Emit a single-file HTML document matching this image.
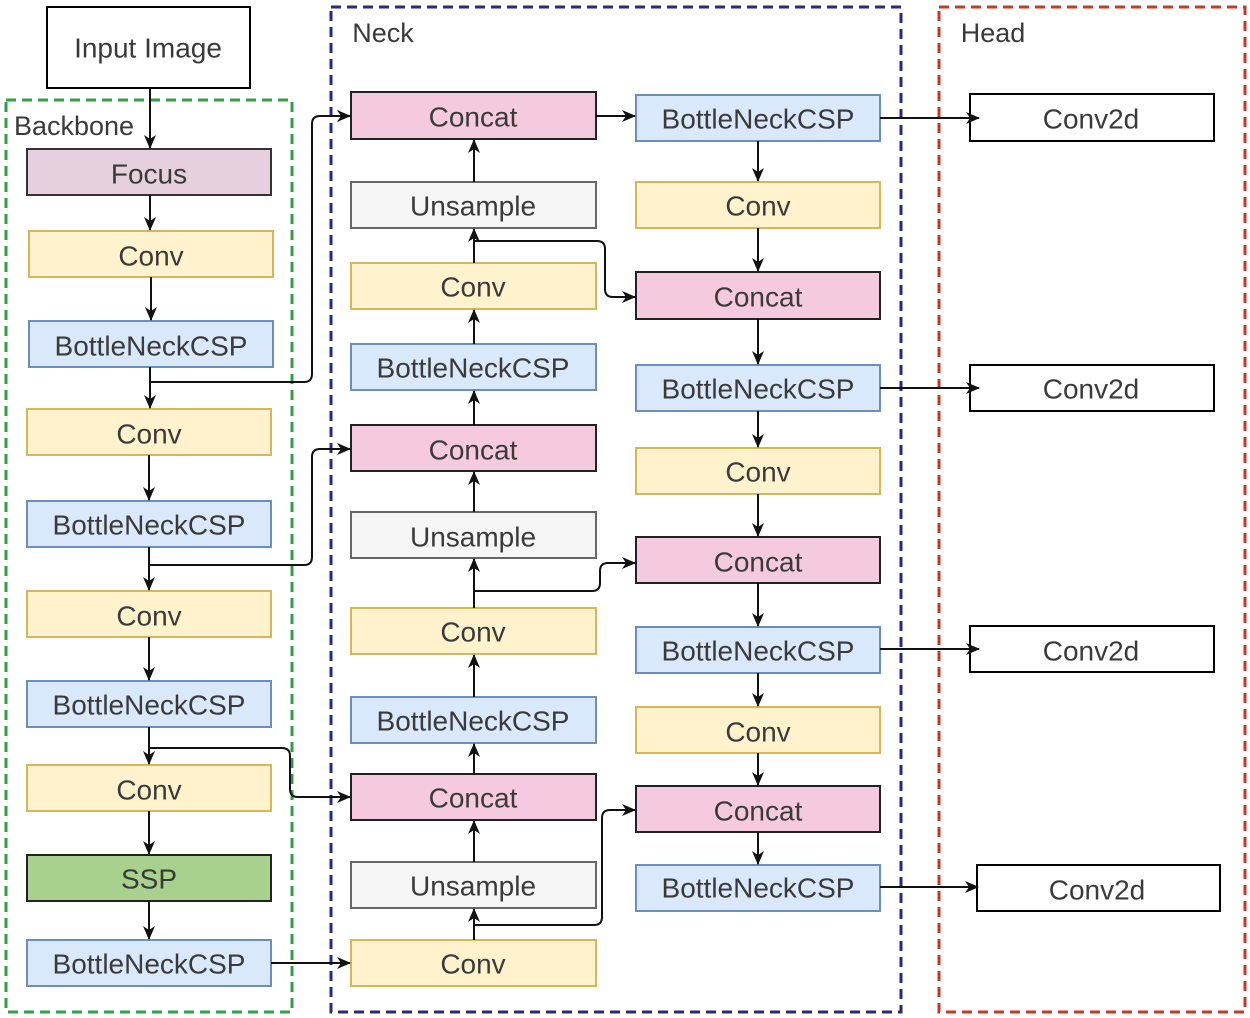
<!DOCTYPE html>
<html><head><meta charset="utf-8"><style>
body{margin:0;background:#fff;width:1250px;height:1018px;overflow:hidden}
svg{display:block}
text{font-family:"Liberation Sans",sans-serif;font-size:28px;text-anchor:middle;dominant-baseline:central;fill:#3a3a3a}
.y{fill:#fff2cc;stroke:#d6b656;stroke-width:2}
.b{fill:#dae8fc;stroke:#6c8ebf;stroke-width:2}
.p{fill:#f6cade;stroke:#222;stroke-width:2}
.g{fill:#f5f5f5;stroke:#666;stroke-width:2}
.w{fill:#fff;stroke:#000;stroke-width:2}
.f{fill:#e6d0de;stroke:#333;stroke-width:2}
.s{fill:#a9d18e;stroke:#222;stroke-width:2}
.l{fill:none;stroke:#111;stroke-width:2}
</style></head><body>
<svg width="1250" height="1018" viewBox="0 0 1250 1018">
<defs><marker id="a" markerWidth="14" markerHeight="14" refX="13" refY="7" orient="auto" markerUnits="userSpaceOnUse"><path d="M0,1L14,7L0,13L4,7z" fill="#111"/></marker></defs>
<rect x="6" y="100" width="286" height="912" fill="none" stroke="#2ea043" stroke-width="3" stroke-dasharray="10,6"/>
<rect x="331" y="7" width="570" height="1005" fill="none" stroke="#2a2a7a" stroke-width="3" stroke-dasharray="10,6"/>
<rect x="939" y="7" width="306" height="1005" fill="none" stroke="#c0392b" stroke-width="3" stroke-dasharray="10,6"/>
<text x="383" y="33" style="font-size:27px">Neck</text><text x="993" y="33" style="font-size:27px">Head</text>
<text x="74" y="126" style="font-size:27px">Backbone</text>
<rect class="w" x="47" y="7" width="203" height="81"/><text x="148" y="48" fill="#111">Input Image</text>
<g>
<rect class="f" x="27" y="149" width="244" height="46"/><text x="149" y="174">Focus</text>
<rect class="y" x="29" y="231" width="244" height="46"/><text x="151" y="256">Conv</text>
<rect class="b" x="29" y="321" width="244" height="46"/><text x="151" y="346">BottleNeckCSP</text>
<rect class="y" x="27" y="409" width="244" height="46"/><text x="149" y="434">Conv</text>
<rect class="b" x="27" y="501" width="244" height="46"/><text x="149" y="525">BottleNeckCSP</text>
<rect class="y" x="27" y="591" width="244" height="46"/><text x="149" y="616">Conv</text>
<rect class="b" x="27" y="681" width="244" height="46"/><text x="149" y="705">BottleNeckCSP</text>
<rect class="y" x="27" y="765" width="244" height="46"/><text x="149" y="790">Conv</text>
<rect class="s" x="27" y="855" width="244" height="46"/><text x="149" y="879">SSP</text>
<rect class="b" x="27" y="940" width="244" height="46"/><text x="149" y="964">BottleNeckCSP</text>
</g>
<g>
<rect class="p" x="351" y="92" width="245" height="47"/><text x="473" y="117">Concat</text>
<rect class="g" x="351" y="182" width="245" height="46"/><text x="473" y="206">Unsample</text>
<rect class="y" x="351" y="263" width="245" height="46"/><text x="473" y="287">Conv</text>
<rect class="b" x="351" y="344" width="245" height="46"/><text x="473" y="368">BottleNeckCSP</text>
<rect class="p" x="351" y="425" width="245" height="46"/><text x="473" y="450">Concat</text>
<rect class="g" x="351" y="512" width="245" height="46"/><text x="473" y="537">Unsample</text>
<rect class="y" x="351" y="608" width="245" height="46"/><text x="473" y="632">Conv</text>
<rect class="b" x="351" y="697" width="245" height="46"/><text x="473" y="721">BottleNeckCSP</text>
<rect class="p" x="351" y="774" width="245" height="46"/><text x="473" y="798">Concat</text>
<rect class="g" x="351" y="862" width="245" height="46"/><text x="473" y="886">Unsample</text>
<rect class="y" x="351" y="940" width="245" height="46"/><text x="473" y="964">Conv</text>
</g>
<g>
<rect class="b" x="636" y="95" width="244" height="46"/><text x="758" y="119">BottleNeckCSP</text>
<rect class="y" x="636" y="182" width="244" height="46"/><text x="758" y="206">Conv</text>
<rect class="p" x="636" y="272" width="244" height="47"/><text x="758" y="297">Concat</text>
<rect class="b" x="636" y="365" width="244" height="46"/><text x="758" y="389">BottleNeckCSP</text>
<rect class="y" x="636" y="448" width="244" height="46"/><text x="758" y="472">Conv</text>
<rect class="p" x="636" y="537" width="244" height="46"/><text x="758" y="562">Concat</text>
<rect class="b" x="636" y="627" width="244" height="46"/><text x="758" y="651">BottleNeckCSP</text>
<rect class="y" x="636" y="707" width="244" height="46"/><text x="758" y="732">Conv</text>
<rect class="p" x="636" y="786" width="244" height="46"/><text x="758" y="811">Concat</text>
<rect class="b" x="636" y="865" width="244" height="46"/><text x="758" y="888">BottleNeckCSP</text>
</g>
<g>
<rect class="w" x="970" y="94" width="244" height="47"/><text x="1091" y="119" fill="#111">Conv2d</text>
<rect class="w" x="970" y="365" width="244" height="46"/><text x="1091" y="389" fill="#111">Conv2d</text>
<rect class="w" x="970" y="626" width="244" height="46"/><text x="1091" y="651" fill="#111">Conv2d</text>
<rect class="w" x="977" y="865" width="243" height="46"/><text x="1097" y="890" fill="#111">Conv2d</text>
</g>
<g class="l" marker-end="url(#a)">
<path d="M150,88V148"/><path d="M150,195V230"/><path d="M151,277V320"/><path d="M150,367V408"/>
<path d="M149,455V500"/><path d="M149,547V590"/><path d="M149,637V680"/><path d="M149,727V764"/>
<path d="M149,811V854"/><path d="M149,901V939"/>
<path d="M150,382H304Q312,382 312,374V124Q312,116 320,116H350"/>
<path d="M149,565H304Q312,565 312,557V457Q312,449 320,449H350"/>
<path d="M149,748H282Q290,748 290,756V789Q290,797 298,797H350"/>
<path d="M271,963H350"/>
<path d="M474,940V909"/><path d="M474,862V821"/><path d="M474,774V744"/><path d="M474,697V655"/>
<path d="M474,608V559"/><path d="M474,512V472"/><path d="M474,425V391"/><path d="M474,344V310"/>
<path d="M474,263V229"/><path d="M474,182V140"/>
<path d="M596,116H635"/>
<path d="M474,241H597Q605,241 605,249V289Q605,297 613,297H635"/>
<path d="M474,591H592Q600,591 600,583V571Q600,563 608,563H635"/>
<path d="M474,925H594Q602,925 602,917V818Q602,810 610,810H635"/>
<path d="M758,141V181"/><path d="M758,228V271"/><path d="M758,319V364"/><path d="M758,411V447"/>
<path d="M758,494V536"/><path d="M758,583V626"/><path d="M758,673V706"/><path d="M758,753V785"/><path d="M758,832V864"/>
<path d="M880,118H979"/><path d="M880,388H979"/><path d="M880,649H979"/><path d="M880,887H978"/>
</g>
</svg>
</body></html>
